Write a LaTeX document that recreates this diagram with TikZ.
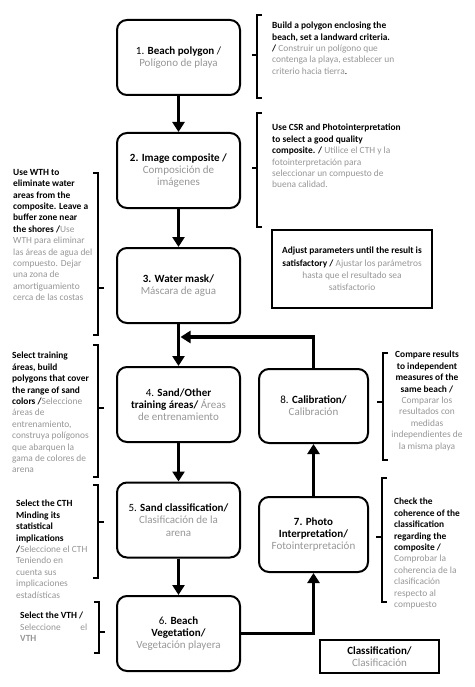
\documentclass[tikz,border=0pt]{standalone}
\usepackage{fontspec}
\setmainfont{Carlito}
\usetikzlibrary{arrows.meta}
\definecolor{lg}{RGB}{150,150,150}
\newcommand{\gtx}[1]{\textcolor{lg}{#1}}
\begin{document}
\begin{tikzpicture}[x=1pt,y=-1pt,
  stepbox/.style={draw, line width=2pt, rounded corners=10pt, minimum width=123pt, minimum height=75pt, align=center, font=\fontsize{11}{12.3}\selectfont, inner sep=2pt},
  flow/.style={line width=3.6pt, -{Triangle[length=10pt,width=12pt]}},
  brk/.style={line width=1.5pt},
  side/.style={font=\fontsize{9.4}{11.4}\selectfont, inner sep=0pt, align=left, anchor=north west},
  plainbox/.style={draw, line width=2pt, align=center, inner sep=2pt},
]
\useasboundingbox (0,0) rectangle (474,687);

% main boxes
\node[stepbox] (b1) at (178.5,57.5) {1. \textbf{Beach polygon} /\\ \gtx{Polígono de playa}};
\node[stepbox] (b2) at (178.5,170.5) {\textbf{2. Image composite /}\\ \gtx{Composición de}\\ \gtx{imágenes}};
\node[stepbox] (b3) at (178.5,285.5) {\textbf{3. Water mask/}\\ \gtx{Máscara de agua}};
\node[stepbox] (b4) at (178.5,404.5) {4. \textbf{Sand/Other}\\ \textbf{training áreas/} \gtx{Áreas}\\ \gtx{de entrenamiento}};
\node[stepbox] (b5) at (178.5,520) {5. \textbf{Sand classification/}\\ \gtx{Clasificación de la}\\ \gtx{arena}};
\node[stepbox] (b6) at (178.5,633.5) {6. \textbf{Beach}\\ \textbf{Vegetation/}\\ \gtx{Vegetación playera}};
\node[stepbox, minimum width=109pt, minimum height=74pt] (b8) at (313.5,406) {8. \textbf{Calibration/}\\ \gtx{Calibración}};
\node[stepbox, minimum width=109pt, minimum height=75pt] (b7) at (313.5,534.5) {\textbf{7. Photo}\\ \textbf{Interpretation/}\\ \gtx{Fotointerpretación}};

\node[plainbox, minimum width=160pt, minimum height=78pt, font=\fontsize{9.4}{12.2}\selectfont] (adj) at (352,269)
  {\textbf{Adjust parameters until the result is}\\ \textbf{satisfactory /} \gtx{Ajustar los parámetros}\\ \gtx{hasta que el resultado sea}\\ \gtx{satisfactorio}};
\node[plainbox, minimum width=119pt, minimum height=33pt, font=\fontsize{11}{11.5}\selectfont] (cls) at (379.5,656.5)
  {\textbf{Classification/}\\ \gtx{Clasificación}};

% connectors
\coordinate (j) at (180.5,337);
\draw[flow] (b1.south) -- (b2.north);
\draw[flow] (b2.south) -- (b3.north);
\draw[flow] (b3.south) -- (b4.north);
\draw[flow] (b4.south) -- (b5.north);
\draw[flow] (b5.south) -- (b6.north);
\draw[flow] (b6.east) -| (b7.south);
\draw[flow] (b7.north) -- (b8.south);
\draw[flow] (b8.north) |- (j);

% brackets (right side, opening)
\draw[brk] (262,15) -- (257,15) -- (257,98) -- (262,98) (257,55) -- (252,55);
\draw[brk] (262,113) -- (257,113) -- (257,227) -- (262,227) (257,168) -- (252,168);
\draw[brk] (388,353) -- (383,353) -- (383,460) -- (388,460) (383,402) -- (377,402);
\draw[brk] (387,478) -- (382,478) -- (382,602) -- (387,602) (382,537) -- (376,537);
% brackets (left side, closing)
\draw[brk] (93,173) -- (98,173) -- (98,335) -- (93,335) (98,288) -- (104,288);
\draw[brk] (93,345) -- (98,345) -- (98,477) -- (93,477) (98,408) -- (104,408);
\draw[brk] (93,485) -- (98,485) -- (98,578) -- (93,578) (98,522) -- (104,522);
\draw[brk] (94,602) -- (99,602) -- (99,653) -- (94,653) (99,632) -- (105,632);

% side texts
\node[side] (t1) at (272,22) {\textbf{Build a polygon enclosing the}\\ \textbf{beach, set a landward criteria.}\\ \textbf{/} \gtx{Construir un polígono que}\\ \gtx{contenga la playa, establecer un}\\ \gtx{criterio hacia tierra}.};
\node[side] (t2) at (272,124) {\textbf{Use CSR and Photointerpretation}\\ \textbf{to select a good quality}\\ \textbf{composite. /} \gtx{Utilice el CTH y la}\\ \gtx{fotointerpretación para}\\ \gtx{seleccionar un compuesto de}\\ \gtx{buena calidad.}};
\node[side] (t3) at (13,169) {\textbf{Use WTH to}\\ \textbf{eliminate water}\\ \textbf{areas from the}\\ \textbf{composite. Leave a}\\ \textbf{buffer zone near}\\ \textbf{the shores /}\gtx{Use}\\ \gtx{WTH para eliminar}\\ \gtx{las áreas de agua del}\\ \gtx{compuesto. Dejar}\\ \gtx{una zona de}\\ \gtx{amortiguamiento}\\ \gtx{cerca de las costas}};
\node[side] (t4) at (12,352) {\textbf{Select training}\\ \textbf{áreas, build}\\ \textbf{polygons that cover}\\ \textbf{the range of sand}\\ \textbf{colors /}\gtx{Seleccione}\\ \gtx{áreas de}\\ \gtx{entrenamiento,}\\ \gtx{construya polígonos}\\ \gtx{que abarquen la}\\ \gtx{gama de colores de}\\ \gtx{arena}};
\node[side] (t5) at (16,500) {\textbf{Select the CTH}\\ \textbf{Minding its}\\ \textbf{statistical}\\ \textbf{implications}\\ \textbf{/}\gtx{Seleccione el CTH}\\ \gtx{Teniendo en}\\ \gtx{cuenta sus}\\ \gtx{implicaciones}\\ \gtx{estadísticas}};
\node[side] (t6) at (20,612) {\textbf{Select the VTH /}\\ \hbox to 67pt{\gtx{Seleccione}\hfill\gtx{el}}\\ \textbf{\gtx{VTH}}};
\node[side, align=center, anchor=north] (t8) at (427,351) {\textbf{Compare results}\\ \textbf{to independent}\\ \textbf{measures of the}\\ \textbf{same beach /}\\ \gtx{Comparar los}\\ \gtx{resultados con}\\ \gtx{medidas}\\ \gtx{independientes de}\\ \gtx{la misma playa}};
\node[side] (t7) at (394,498) {\textbf{Check the}\\ \textbf{coherence of the}\\ \textbf{classification}\\ \textbf{regarding the}\\ \textbf{composite /}\\ \gtx{Comprobar la}\\ \gtx{coherencia de la}\\ \gtx{clasificación}\\ \gtx{respecto al}\\ \gtx{compuesto}};
\end{tikzpicture}
\end{document}
